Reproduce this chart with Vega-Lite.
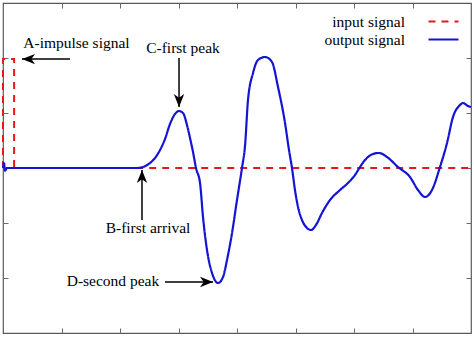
{
  "$schema": "https://vega.github.io/schema/vega-lite/v6.json",
  "width": 468,
  "height": 330,
  "autosize": "none",
  "padding": {"left": 3, "top": 3, "right": 3, "bottom": 4},
  "background": "white",
  "config": {
    "view": {"stroke": "#5a5a5a", "strokeWidth": 1.2},
    "font": "Liberation Serif",
    "axis": {"domain": false, "grid": false, "labels": false, "title": null, "ticks": true, "tickSize": -5, "tickColor": "#6a6a6a", "tickWidth": 1}
  },
  "datasets": {
    "signals": [
      {"series": "input signal", "ord": 0, "t": 0, "v": 0},
      {"series": "input signal", "ord": 1, "t": 0, "v": 1.98},
      {"series": "input signal", "ord": 2, "t": 0.19, "v": 1.98},
      {"series": "input signal", "ord": 3, "t": 0.19, "v": 0},
      {"series": "input signal", "ord": 4, "t": 8, "v": 0},
      {"series": "output signal", "ord": 0, "t": 0, "v": 0},
      {"series": "output signal", "ord": 1, "t": 0.017, "v": 0.09},
      {"series": "output signal", "ord": 2, "t": 0.034, "v": -0.05},
      {"series": "output signal", "ord": 3, "t": 0.068, "v": 0},
      {"series": "output signal", "ord": 4, "t": 1.2, "v": 0},
      {"series": "output signal", "ord": 5, "t": 2.291, "v": 0},
      {"series": "output signal", "ord": 6, "t": 2.393, "v": 0.018},
      {"series": "output signal", "ord": 7, "t": 2.513, "v": 0.091},
      {"series": "output signal", "ord": 8, "t": 2.598, "v": 0.182},
      {"series": "output signal", "ord": 9, "t": 2.684, "v": 0.327},
      {"series": "output signal", "ord": 10, "t": 2.769, "v": 0.527},
      {"series": "output signal", "ord": 11, "t": 2.855, "v": 0.8},
      {"series": "output signal", "ord": 12, "t": 2.94, "v": 0.982},
      {"series": "output signal", "ord": 13, "t": 3.009, "v": 1.036},
      {"series": "output signal", "ord": 14, "t": 3.077, "v": 1.0},
      {"series": "output signal", "ord": 15, "t": 3.145, "v": 0.782},
      {"series": "output signal", "ord": 16, "t": 3.197, "v": 0.545},
      {"series": "output signal", "ord": 17, "t": 3.248, "v": 0.291},
      {"series": "output signal", "ord": 18, "t": 3.299, "v": 0},
      {"series": "output signal", "ord": 19, "t": 3.368, "v": -0.273},
      {"series": "output signal", "ord": 20, "t": 3.419, "v": -0.891},
      {"series": "output signal", "ord": 21, "t": 3.487, "v": -1.491},
      {"series": "output signal", "ord": 22, "t": 3.573, "v": -1.909},
      {"series": "output signal", "ord": 23, "t": 3.675, "v": -2.091},
      {"series": "output signal", "ord": 24, "t": 3.761, "v": -1.982},
      {"series": "output signal", "ord": 25, "t": 3.829, "v": -1.673},
      {"series": "output signal", "ord": 26, "t": 3.915, "v": -1.182},
      {"series": "output signal", "ord": 27, "t": 4.0, "v": -0.582},
      {"series": "output signal", "ord": 28, "t": 4.085, "v": 0},
      {"series": "output signal", "ord": 29, "t": 4.137, "v": 0.4},
      {"series": "output signal", "ord": 30, "t": 4.188, "v": 1.236},
      {"series": "output signal", "ord": 31, "t": 4.274, "v": 1.727},
      {"series": "output signal", "ord": 32, "t": 4.359, "v": 1.964},
      {"series": "output signal", "ord": 33, "t": 4.479, "v": 2.018},
      {"series": "output signal", "ord": 34, "t": 4.598, "v": 1.927},
      {"series": "output signal", "ord": 35, "t": 4.701, "v": 1.473},
      {"series": "output signal", "ord": 36, "t": 4.821, "v": 0.818},
      {"series": "output signal", "ord": 37, "t": 4.889, "v": 0.327},
      {"series": "output signal", "ord": 38, "t": 4.94, "v": 0},
      {"series": "output signal", "ord": 39, "t": 4.991, "v": -0.4},
      {"series": "output signal", "ord": 40, "t": 5.043, "v": -0.709},
      {"series": "output signal", "ord": 41, "t": 5.111, "v": -0.945},
      {"series": "output signal", "ord": 42, "t": 5.197, "v": -1.091},
      {"series": "output signal", "ord": 43, "t": 5.265, "v": -1.127},
      {"series": "output signal", "ord": 44, "t": 5.35, "v": -1.036},
      {"series": "output signal", "ord": 45, "t": 5.453, "v": -0.818},
      {"series": "output signal", "ord": 46, "t": 5.59, "v": -0.582},
      {"series": "output signal", "ord": 47, "t": 5.761, "v": -0.4},
      {"series": "output signal", "ord": 48, "t": 5.897, "v": -0.273},
      {"series": "output signal", "ord": 49, "t": 6.017, "v": -0.127},
      {"series": "output signal", "ord": 50, "t": 6.103, "v": 0.018},
      {"series": "output signal", "ord": 51, "t": 6.188, "v": 0.145},
      {"series": "output signal", "ord": 52, "t": 6.325, "v": 0.255},
      {"series": "output signal", "ord": 53, "t": 6.427, "v": 0.273},
      {"series": "output signal", "ord": 54, "t": 6.564, "v": 0.2},
      {"series": "output signal", "ord": 55, "t": 6.752, "v": 0.018},
      {"series": "output signal", "ord": 56, "t": 6.957, "v": -0.164},
      {"series": "output signal", "ord": 57, "t": 7.094, "v": -0.4},
      {"series": "output signal", "ord": 58, "t": 7.214, "v": -0.527},
      {"series": "output signal", "ord": 59, "t": 7.333, "v": -0.4},
      {"series": "output signal", "ord": 60, "t": 7.47, "v": 0.018},
      {"series": "output signal", "ord": 61, "t": 7.59, "v": 0.455},
      {"series": "output signal", "ord": 62, "t": 7.692, "v": 0.927},
      {"series": "output signal", "ord": 63, "t": 7.812, "v": 1.145},
      {"series": "output signal", "ord": 64, "t": 7.863, "v": 1.182},
      {"series": "output signal", "ord": 65, "t": 7.949, "v": 1.127},
      {"series": "output signal", "ord": 66, "t": 8.0, "v": 1.109}
    ],
    "notes": [
      {"label": "A-impulse signal", "t": 1.256, "v": 2.273},
      {"label": "C-first peak", "t": 3.077, "v": 2.182},
      {"label": "B-first arrival", "t": 2.479, "v": -1.091},
      {"label": "D-second peak", "t": 1.88, "v": -2.055}
    ],
    "arrows": [
      {"name": "A", "dir": "left", "t1": 1.145, "v1": 1.98, "t2": 0.325, "v2": 1.98},
      {"name": "C", "dir": "down", "t1": 3.009, "v1": 2.0, "t2": 3.009, "v2": 1.109},
      {"name": "B", "dir": "up", "t1": 2.376, "v1": -0.945, "t2": 2.376, "v2": -0.036},
      {"name": "D", "dir": "right", "t1": 2.769, "v1": -2.073, "t2": 3.59, "v2": -2.073}
    ]
  },
  "layer": [
    {
      "data": {"name": "signals"},
      "transform": [{"filter": "datum.series === 'input signal'"}],
      "mark": {"type": "line", "strokeWidth": 2, "interpolate": "linear"},
      "encoding": {
        "x": {"field": "t", "type": "quantitative", "scale": {"domain": [0, 8], "nice": false, "zero": false}, "axis": {"orient": "bottom", "values": [1, 2, 3, 4, 5, 6, 7]}},
        "y": {"field": "v", "type": "quantitative", "scale": {"domain": [-3, 3], "nice": false, "zero": false}, "axis": {"orient": "left", "values": [-2, -1, 0, 1, 2]}},
        "order": {"field": "ord", "type": "quantitative"},
        "color": {"field": "series", "type": "nominal", "scale": {"domain": ["input signal", "output signal"], "range": ["#e81818", "#1414d4"]}, "legend": {"title": null, "orient": "none", "legendX": 431.5, "legendY": 9.5, "symbolType": "M-2,0H2", "symbolSize": 225, "symbolStrokeWidth": 2.2, "labelAlign": "right", "labelOffset": -47.5, "labelFont": "Liberation Serif", "labelFontSize": 15.5, "labelColor": "black", "rowPadding": -1.5, "padding": 0}},
        "strokeDash": {"field": "series", "type": "nominal", "scale": {"domain": ["input signal", "output signal"], "range": [[7, 6], [1, 0]]}, "legend": {"title": null, "orient": "none", "legendX": 431.5, "legendY": 9.5, "symbolType": "M-2,0H2", "symbolSize": 225, "symbolStrokeWidth": 2.2, "labelAlign": "right", "labelOffset": -47.5, "labelFont": "Liberation Serif", "labelFontSize": 15.5, "labelColor": "black", "rowPadding": -1.5, "padding": 0}}
      }
    },
    {
      "data": {"name": "signals"},
      "transform": [{"filter": "datum.series === 'output signal'"}],
      "mark": {"type": "line", "strokeWidth": 2.2, "interpolate": "monotone"},
      "encoding": {
        "x": {"field": "t", "type": "quantitative", "scale": {"domain": [0, 8], "nice": false, "zero": false}, "axis": {"orient": "top", "values": [1, 2, 3, 4, 5, 6, 7]}},
        "y": {"field": "v", "type": "quantitative", "scale": {"domain": [-3, 3], "nice": false, "zero": false}, "axis": {"orient": "right", "values": [-2, -1, 0, 1, 2]}},
        "order": {"field": "ord", "type": "quantitative"},
        "color": {"field": "series", "type": "nominal"},
        "strokeDash": {"field": "series", "type": "nominal"}
      }
    },
    {
      "data": {"name": "arrows"},
      "mark": {"type": "rule", "color": "black", "strokeWidth": 1.5},
      "encoding": {
        "x": {"field": "t1", "type": "quantitative", "axis": null},
        "y": {"field": "v1", "type": "quantitative", "axis": null},
        "x2": {"field": "t2"},
        "y2": {"field": "v2"}
      }
    },
    {
      "data": {"name": "arrows"},
      "mark": {"type": "point", "filled": true, "color": "black", "size": 676, "opacity": 1},
      "encoding": {
        "x": {"field": "t2", "type": "quantitative", "axis": null},
        "y": {"field": "v2", "type": "quantitative", "axis": null},
        "shape": {"field": "dir", "type": "nominal", "legend": null, "scale": {"domain": ["left", "right", "up", "down"], "range": ["M0,0L1,-0.4L0.72,0L1,0.4Z", "M0,0L-1,-0.4L-0.72,0L-1,0.4Z", "M0,0L-0.4,1L0,0.72L0.4,1Z", "M0,0L-0.4,-1L0,-0.72L0.4,-1Z"]}}
      }
    },
    {
      "data": {"name": "notes"},
      "mark": {"type": "text", "font": "Liberation Serif", "fontSize": 15.5, "color": "black", "align": "center", "baseline": "middle"},
      "encoding": {
        "x": {"field": "t", "type": "quantitative", "axis": null},
        "y": {"field": "v", "type": "quantitative", "axis": null},
        "text": {"field": "label"}
      }
    }
  ],
  "resolve": {"axis": {"x": "independent", "y": "independent"}}
}
